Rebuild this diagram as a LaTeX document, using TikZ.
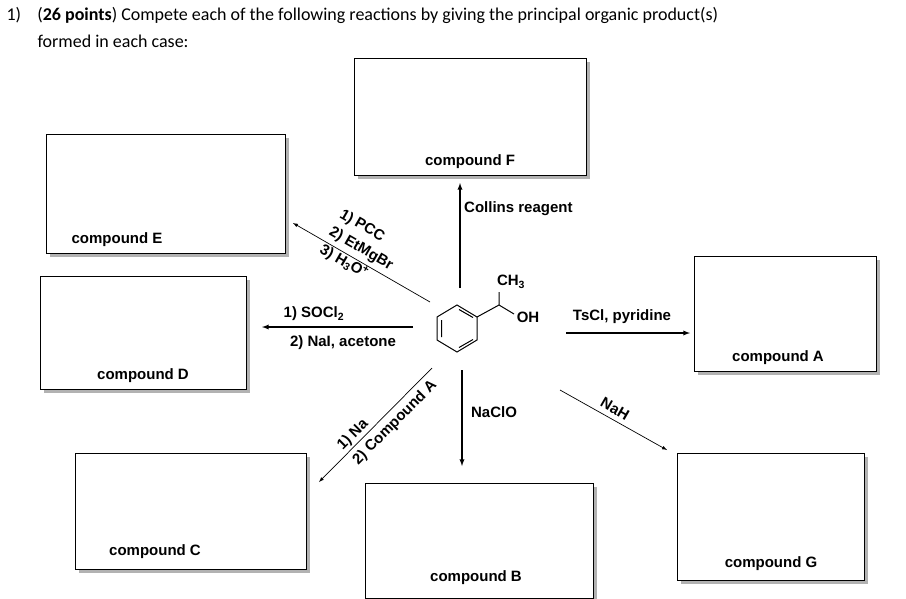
\documentclass[tikz,border=0pt]{standalone}
\usepackage{fontspec}
\setmainfont{Carlito}
\newfontfamily\arialf{Liberation Sans}
\begin{document}
\begin{tikzpicture}[x=1pt,y=-1pt,
  box/.style={draw=black,line width=1pt,fill=white},
  shad/.style={fill=black!30,draw=none},
  lab/.style={font=\arialf\bfseries\fontsize{15}{17}\selectfont,inner sep=1pt},
  rx/.style={line width=1.3pt,-latex},
  rxt/.style={line width=0.7pt,-latex}]
\useasboundingbox (0,0) rectangle (906,598);
\node[anchor=west,font=\fontsize{18}{21}\selectfont] (h1) at (3,15) {1)\hspace{0.9em}(\textbf{26 points}) Compete each of the following reactions by giving the principal organic product(s)};
\node[anchor=west,font=\fontsize{18}{21}\selectfont] (h2) at (34,41) {formed in each case:};
% boxes
\foreach \n/\a/\b/\c/\d in {F/354/58/586/175,E/46/134/285/253,D/40/276/246/389,A/694/256/876/371,C/75/453/306/569,B/365/483/593/598,G/677/453/864/580}{
  \fill[shad] (\a+4,\b+4) rectangle (\c+4,\d+4);
  \draw[box] (\a,\b) rectangle (\c,\d);
  \coordinate (box\n) at (\a,\b);
}
\node[lab] (cF) at (470,162) {compound F};
\node[lab] (cE) at (117,240) {compound E};
\node[lab] (cD) at (143,376) {compound D};
\node[lab] (cA) at (778,358) {compound A};
\node[lab] (cC) at (155,552) {compound C};
\node[lab] (cB) at (476,578) {compound B};
\node[lab] (cG) at (771,564) {compound G};
% molecule
\draw[line width=1pt] (437,317)--(457,305)--(477,317)--(477,340)--(457,352)--(437,340)--cycle;
\draw[line width=1pt] (441.5,320)--(441.5,337) (459,347.5)--(473,339.5) (459,309.5)--(473,317.5);
\draw[line width=1pt] (477,317)--(499,305)--(499,292) (499,305)--(514,314);
\node[lab] (ch3) at (511,282) {CH\textsubscript{3}};
\node[lab] (oh) at (528,317) {OH};
% arrows
\coordinate (u1) at (460,288); \coordinate (u2) at (460,183);
\draw[rx] (u1)--(u2);
\node[lab,anchor=west] (t1) at (463,209) {Collins reagent};
\coordinate (p1) at (430,302); \coordinate (p2) at (293,223);
\draw[rxt] (p1)--(p2);
\node[lab,rotate=-30] (t2a) at (362,226) {1) PCC};
\node[lab,rotate=-30] (t2b) at (361,249) {2) EtMgBr};
\node[lab,rotate=-30] (t2c) at (344,262) {3) H\textsubscript{3}O\textsuperscript{+}};
\coordinate (s1) at (413,327); \coordinate (s2) at (262,327);
\draw[rx] (s1)--(s2);
\node[lab] (t3) at (314,314) {1) SOCl\textsubscript{2}};
\node[lab] (t4) at (343,343) {2) NaI, acetone};
\coordinate (a1) at (566,333); \coordinate (a2) at (690,333);
\draw[rx] (a1)--(a2);
\node[lab] (t5) at (622,317) {TsCl, pyridine};
\coordinate (n1) at (560,390); \coordinate (n2) at (667,450);
\draw[rxt] (n1)--(n2);
\node[lab,rotate=-30] (t6) at (615,409) {NaH};
\coordinate (b1) at (462,370); \coordinate (b2) at (462,466);
\draw[rx] (b1)--(b2);
\node[lab] (t7) at (494,412) {NaClO};
\coordinate (c1) at (432,368); \coordinate (c2) at (319,482);
\draw[rxt] (c1)--(c2);
\node[lab,rotate=45] (t8a) at (353,435) {1) Na};
\node[lab,rotate=45] (t8b) at (395,423) {2) Compound A};
\end{tikzpicture}
\end{document}
